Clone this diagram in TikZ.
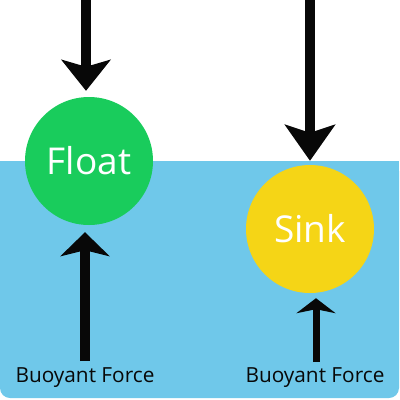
\documentclass[tikz,border=0pt]{standalone}
\usepackage{fontspec}
\setmainfont{Open Sans}
\usetikzlibrary{arrows.meta}

\definecolor{water}{HTML}{6FC8EA}
\definecolor{floatgreen}{HTML}{19CC5C}
\definecolor{sinkyellow}{HTML}{F5D516}
\definecolor{arrowblack}{HTML}{080808}

\tikzset{
  ball/.style={circle,minimum size=128pt,inner sep=0pt,text=white,
    font=\fontsize{37}{42}\selectfont},
  force/.style={draw=arrowblack,line width=10pt},
  forcelabel/.style={text=arrowblack,font=\fontsize{20.8}{24}\selectfont}
}

\begin{document}
\begin{tikzpicture}[x=1pt,y=-1pt]
    \useasboundingbox (0,0) rectangle (400,400);
    % water
    \fill[water,rounded corners=10pt] (0,161) rectangle (399,398);
    \fill[water] (0,161) rectangle (399,190);
    % balls
    \node[ball,fill=floatgreen] (float) at (89,161) {Float};
    \node[ball,fill=sinkyellow] (sink) at (310,229) {Sink};
    % labels
    \node[forcelabel] (buoyL) at (85,378) {Buoyant Force};
    \node[forcelabel] (buoyR) at (315,378) {Buoyant Force};
    \coordinate (topL) at (86,0);
    \coordinate (topR) at (310,0);
    \coordinate (footL) at (85,361);
    \coordinate (footR) at (316,362);
    % weight
    \draw[force,-{Stealth[length=31pt,width=49pt,inset=7pt]},shorten >=6pt]
      (topL) -- (topL |- float.north);
    \draw[force,-{Stealth[length=36pt,width=50pt,inset=8pt]},shorten >=4pt]
      (topR) -- (topR |- sink.north);
    % buoyancy
    \draw[force,-{Stealth[length=24pt,width=49pt,inset=6pt]},shorten >=7pt]
      (footL) -- (footL |- float.south);
    \draw[force,line width=7pt,-{Stealth[length=15pt,width=39pt,inset=4pt]},shorten >=5pt]
      (footR) -- (footR |- sink.south);
\end{tikzpicture}
\end{document}
